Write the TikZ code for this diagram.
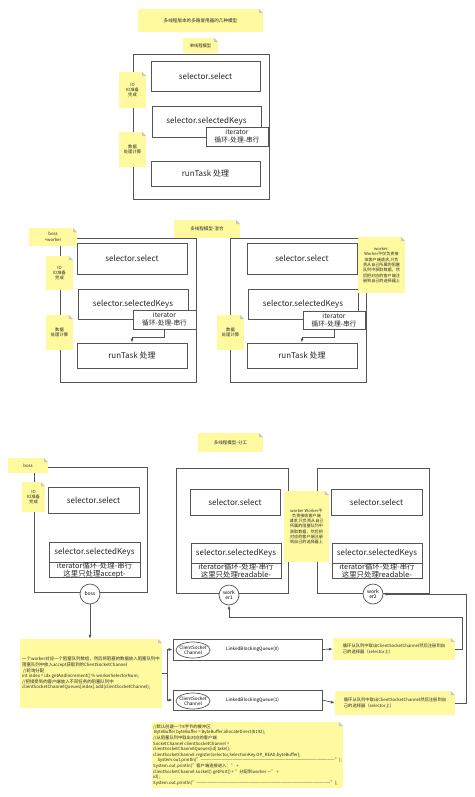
\documentclass[tikz,border=0pt]{standalone}
\usepackage{fontspec}
\setmainfont{Noto Sans CJK SC}
\usetikzlibrary{shapes.geometric,arrows.meta}
\definecolor{noteY}{RGB}{255,250,160}
\definecolor{lc}{RGB}{85,85,85}
\definecolor{foldc}{RGB}{200,200,190}
\newcommand{\dashrun}{——————————————————————————————————————}
\tikzset{
  sz/.style 2 args={minimum width=#1pt,minimum height=#2pt},
  frame/.style={draw=lc, line width=1pt, inner sep=0pt},
  box/.style={draw=lc, fill=white, line width=0.8pt, inner sep=0pt, align=center,
    font=\fontsize{8}{9.6}\selectfont, text=black!85},
  itxt/.style={font=\fontsize{6.7}{7.7}\selectfont},
  itxtb/.style={font=\fontsize{7.4}{7.7}\selectfont},
  note/.style={fill=noteY, inner sep=1pt, align=center, text=black!85,
    font=\fontsize{4.3}{5.4}\selectfont,
    path picture={
      \fill[white] ([xshift=-4pt]path picture bounding box.north east) --
        (path picture bounding box.north east) --
        ([yshift=-4pt]path picture bounding box.north east) -- cycle;
      \fill[foldc] ([xshift=-4pt]path picture bounding box.north east) --
        ([xshift=-4pt,yshift=-4pt]path picture bounding box.north east) --
        ([yshift=-4pt]path picture bounding box.north east) -- cycle;
    }},
  code/.style={align=left, font=\fontsize{4.3}{5.6}\selectfont},
  circ/.style={circle, draw=lc, fill=white, line width=0.7pt, minimum size=20pt,
    inner sep=0pt, align=center, font=\fontsize{5}{5.6}\selectfont},
  ell/.style={ellipse, draw=lc, fill=white, line width=0.7pt, minimum width=34pt,
    minimum height=16pt, inner xsep=-2pt, inner ysep=0pt, align=center,
    font=\fontsize{4.6}{5.4}\selectfont},
  qbox/.style={draw=lc, fill=white, line width=0.8pt, inner sep=0pt,
    font=\fontsize{4.6}{5.4}\selectfont},
  conn/.style={draw=lc, line width=0.7pt},
  arr/.style={conn, -{Latex[length=4pt,width=3pt]}}
}
\begin{document}
\begin{tikzpicture}[x=1pt,y=-1pt]
\fill[white] (0,0) rectangle (474,797);
\useasboundingbox (0,0) rectangle (474,797);

% ---------- Section 1 ----------
\node[frame, sz={136}{144}] (f1) at (201,127) {};
\node[box, sz={109}{30}] (s1) at (205.5,76) {selector.select};
\node[box, sz={109}{31}] (k1) at (206.5,121.5) {selector.selectedKeys};
\node[box, itxt, sz={62}{19}] (i1) at (237,136.5) {iterator\\循环-处理-串行};
\node[box, sz={109}{25}] (r1) at (205.5,173.5) {runTask 处理};
\node[note, sz={125}{23}, font=\fontsize{4.6}{5.4}\selectfont] (t0) at (200.5,20.5) {多线程版本的多路复用器的几种模型};
\node[note, sz={35}{15}] (t1) at (200.5,45.5) {单线程模型};
\node[note, sz={27}{36}] (io1) at (132.5,90) {IO\\IO准备\\完成};
\node[note, sz={27}{35}] (d1) at (132.5,149.5) {数据\\处理计算};

% ---------- Section 2 ----------
\node[frame, sz={136}{144}] (f2) at (128,310) {};
\node[box, sz={110}{31}] (s2) at (132,258.5) {selector.select};
\node[box, sz={110}{30}] (k2) at (133,304) {selector.selectedKeys};
\node[box, itxt, sz={63}{19}] (i2) at (164.5,319.5) {iterator\\循环-处理-串行};
\node[box, sz={110}{25}] (r2) at (132,355.5) {runTask 处理};
\draw[arr] (i2.south) -- ++(0,8) -| (r2.north);

\node[frame, sz={136}{144}] (f3) at (298,310) {};
\node[box, sz={110}{31}] (s3) at (302,258.5) {selector.select};
\node[box, sz={110}{30}] (k3) at (303,304) {selector.selectedKeys};
\node[box, itxt, sz={62}{18}] (i3) at (334,320) {iterator\\循环-处理-串行};
\node[box, sz={110}{25}] (r3) at (302,355.5) {runTask 处理};
\draw[arr] (i3.south) -- ++(0,8) -| (r3.north);

\node[note, sz={48}{18}] (bw) at (53,237) {boss\\+worker};
\node[note, sz={66}{18}, font=\fontsize{4.5}{5.4}\selectfont] (t2) at (207,229) {多线程模型-混合};
\node[note, sz={27}{34}] (io2) at (59.5,273) {IO\\IO准备\\完成};
\node[note, sz={27}{35}] (d2) at (59.5,332.5) {数据\\处理计算};
\node[note, sz={27}{35}] (d3) at (230.5,332.5) {数据\\处理计算};
\node[note, sz={47}{56}, font=\fontsize{4.1}{5.4}\selectfont] (wn1) at (381.5,265)
  {worker:\\Worker不仅负责接\\收客户端请求,只负\\责从自己所属的阻塞\\队列中获取数据，然\\后把对应的客户端注\\册到自己的选择器上};

% ---------- Section 3 ----------
\node[note, sz={65}{19}, font=\fontsize{4.5}{5.4}\selectfont] (t3) at (230.5,442.5) {多线程模型-分工};

% boss
\node[frame, sz={113}{125}] (fb) at (90.5,529.5) {};
\node[box, sz={91}{26}] (sb) at (93.5,500) {selector.select};
\node[box, sz={91}{21}] (kb) at (94.5,552.5) {selector.selectedKeys};
\node[box, itxtb, sz={91}{14}] (ib) at (94.5,570) {iterator循环-处理-串行\\这里只处理accept-};
\node[circ] (boss) at (90,594) {boss};
\node[note, sz={40}{15}] (bn) at (28,465.5) {boss};
\node[note, sz={23}{30}] (io3) at (33.5,497) {IO\\IO准备\\完成};

% worker1
\node[frame, sz={112}{125}] (fw1) at (232,530.5) {};
\node[box, sz={90}{26}] (sw1) at (235,502) {selector.select};
\node[box, sz={90}{20}] (kw1) at (236,553) {selector.selectedKeys};
\node[box, itxtb, sz={90}{15}] (iw1) at (236,570.5) {iterator循环-处理-串行\\这里只处理readable-};
\node[circ] (w1) at (229,595) {work\\er1};

% worker2
\node[frame, sz={112}{125}] (fw2) at (373,530.5) {};
\node[box, sz={91}{26}] (sw2) at (376.5,502) {selector.select};
\node[box, sz={90}{20}] (kw2) at (377,553) {selector.selectedKeys};
\node[box, itxtb, sz={90}{15}] (iw2) at (377,570.5) {iterator循环-处理-串行\\这里只处理readable-};
\node[circ] (w2) at (373,594) {work\\er2};

\node[note, sz={45}{71}, font=\fontsize{4.1}{5.2}\selectfont] (wn2) at (306.5,526.5)
  {worker Worker不\\负责接收客户端\\请求,只负责从自己\\所属的阻塞队列中\\获取数据，然后把\\对应的客户端注册\\到自己的选择器上};

% big note
\node[note, code, sz={142}{69}, font=\fontsize{4.4}{5.6}\selectfont] (big) at (91,673.5)
  {一个worker对应一个阻塞队列数组，然后将阻塞的数据放入阻塞队列中\\
   阻塞队列中放入accept获取到的ClientSocketChannel\\
   \ //轮询分配\\
   int index = idx.getAndIncrement() \% workerSelectorNum;\\
   //把接受到的客户端放入不同任务的阻塞队列中\\
   clientSocketChannelQueues[index].add(clientSocketChannel);};
\draw[arr] (boss.south) -- (boss.south |- big.north);

% queues
\node[qbox, sz={149}{21}] (q0) at (247.5,649.5) {\hspace{10pt}LinkedBlockingQueue(0)};
\node[ell] (e0) at (193,650) {ClientSocket\\Channel};
\node[qbox, sz={149}{20}] (q1) at (247.5,700) {\hspace{10pt}LinkedBlockingQueue(1)};
\node[ell] (e1) at (193,701) {ClientSocket\\Channel};

\coordinate (br) at (167,673.5);
\draw[conn] (big.east) -- (br);
\draw[arr] (br) |- (q0.west);
\draw[arr] (br) |- (q1.west);

\node[note, code, sz={122}{22}] (n0) at (394,649)
  {循环从队列中取出ClientSocketChannel然后注册到自\\己的选择器（selector上）};
\node[note, code, sz={120}{24}] (n1) at (395,703)
  {循环从队列中取出ClientSocketChannel然后注册到自\\己的选择器（selector上）};
\draw[arr] (q0.east) -- (n0.west);
\draw[arr] (q1.east) -- (n1.west);

\coordinate (c1) at (462,617);
\coordinate (c2) at (466,594);
\draw[arr] (n0.east) -| (c1) -| (w1.south);
\draw[arr] (n1.east) -| (c2) -- (w2.east);

% bottom note
\node[note, code, sz={169}{66}] (bot) at (247.5,755)
  {//默认创建一个8字节的缓冲区\\
   \ ByteBuffer byteBuffer = ByteBuffer.allocateDirect(8192);\\
   //从阻塞队列中取出对应的客户端\\
   SocketChannel clientSocketChannel =\\
   clientSocketChannelQueues[id].take();\\
   clientSocketChannel.register(selector,SelectionKey.OP\_READ,byteBuffer);\\
   \quad System.out.println("\dashrun");\\
   System.out.println("客户端连接进入：" +\\
   clientSocketChannel.socket().getPort() + "分配到worker ---" +\\
   id);\\
   System.out.println("\dashrun");};
\end{tikzpicture}
\end{document}
